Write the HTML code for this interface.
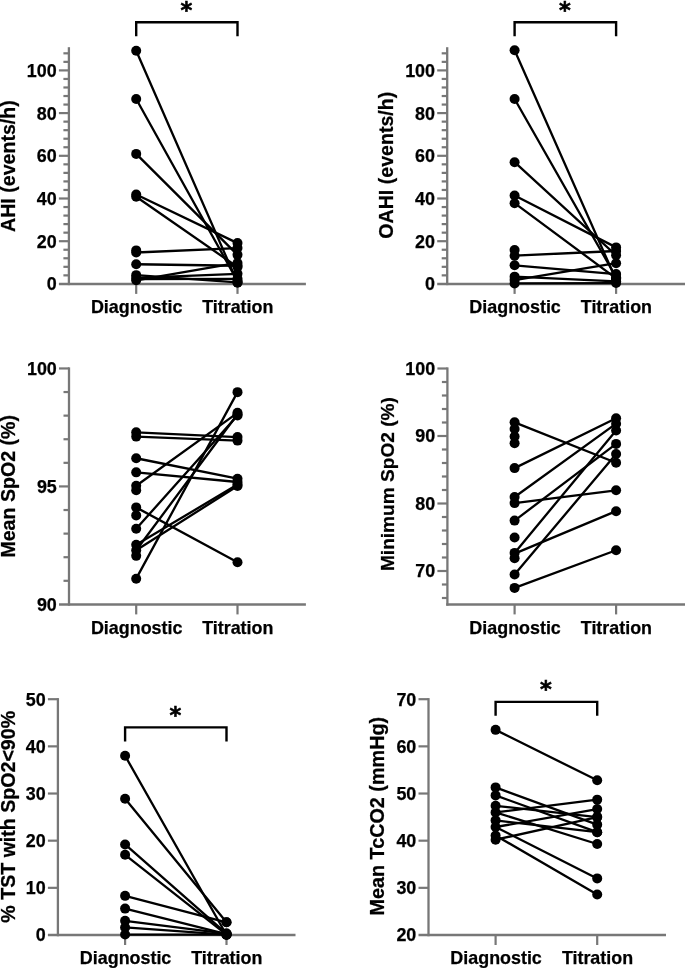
<!DOCTYPE html>
<html><head><meta charset="utf-8"><title>Figure</title>
<style>
html,body{margin:0;padding:0;background:#fff;}
svg{display:block}
.t{font-family:"Liberation Sans",sans-serif;font-weight:bold;font-size:17.9px;fill:#000;stroke:#000;stroke-width:0.25px}
.t.y{font-size:19.5px}
.a{font-family:"DejaVu Sans","Liberation Sans",sans-serif;font-weight:bold;font-size:22.5px;fill:#000;stroke:#000;stroke-width:0.6px}
</style></head><body>
<svg width="685" height="968" viewBox="0 0 685 968">
<rect width="685" height="968" fill="#fff"/>
<g stroke="#777777" stroke-width="2.2" fill="none">
<line x1="68.9" y1="47.2" x2="68.9" y2="285.15" stroke-width="2.3"/>
<line x1="58.900000000000006" y1="283.9" x2="305.9" y2="283.9" stroke-width="2.5"/>
<line x1="58.900000000000006" y1="241.20" x2="68.9" y2="241.20"/>
<line x1="58.900000000000006" y1="198.50" x2="68.9" y2="198.50"/>
<line x1="58.900000000000006" y1="155.80" x2="68.9" y2="155.80"/>
<line x1="58.900000000000006" y1="113.10" x2="68.9" y2="113.10"/>
<line x1="58.900000000000006" y1="70.40" x2="68.9" y2="70.40"/>
<line x1="63.400000000000006" y1="275.36" x2="68.9" y2="275.36"/>
<line x1="63.400000000000006" y1="266.82" x2="68.9" y2="266.82"/>
<line x1="63.400000000000006" y1="258.28" x2="68.9" y2="258.28"/>
<line x1="63.400000000000006" y1="249.74" x2="68.9" y2="249.74"/>
<line x1="63.400000000000006" y1="232.66" x2="68.9" y2="232.66"/>
<line x1="63.400000000000006" y1="224.12" x2="68.9" y2="224.12"/>
<line x1="63.400000000000006" y1="215.58" x2="68.9" y2="215.58"/>
<line x1="63.400000000000006" y1="207.04" x2="68.9" y2="207.04"/>
<line x1="63.400000000000006" y1="189.96" x2="68.9" y2="189.96"/>
<line x1="63.400000000000006" y1="181.42" x2="68.9" y2="181.42"/>
<line x1="63.400000000000006" y1="172.88" x2="68.9" y2="172.88"/>
<line x1="63.400000000000006" y1="164.34" x2="68.9" y2="164.34"/>
<line x1="63.400000000000006" y1="147.26" x2="68.9" y2="147.26"/>
<line x1="63.400000000000006" y1="138.72" x2="68.9" y2="138.72"/>
<line x1="63.400000000000006" y1="130.18" x2="68.9" y2="130.18"/>
<line x1="63.400000000000006" y1="121.64" x2="68.9" y2="121.64"/>
<line x1="63.400000000000006" y1="104.56" x2="68.9" y2="104.56"/>
<line x1="63.400000000000006" y1="96.02" x2="68.9" y2="96.02"/>
<line x1="63.400000000000006" y1="87.48" x2="68.9" y2="87.48"/>
<line x1="63.400000000000006" y1="78.94" x2="68.9" y2="78.94"/>
<line x1="63.400000000000006" y1="61.86" x2="68.9" y2="61.86"/>
<line x1="63.400000000000006" y1="53.32" x2="68.9" y2="53.32"/>
<line x1="136.2" y1="283.9" x2="136.2" y2="293.9"/>
<line x1="237.5" y1="283.9" x2="237.5" y2="293.9"/>
</g>
<g class="t" text-anchor="end">
<text x="56.7" y="290.30">0</text>
<text x="56.7" y="247.60">20</text>
<text x="56.7" y="204.90">40</text>
<text x="56.7" y="162.20">60</text>
<text x="56.7" y="119.50">80</text>
<text x="56.7" y="76.80">100</text>
</g>
<g class="t" text-anchor="middle">
<text x="136.7" y="312.8">Diagnostic</text>
<text x="237.8" y="312.8">Titration</text>
</g>
<text class="t y" text-anchor="middle" style="font-size:19.6px" transform="translate(15.0,166.1) rotate(-90)">AHI (events/h)</text>
<g stroke="#000" stroke-width="2.3" fill="none" stroke-linecap="round">
<line x1="136.2" y1="50.76" x2="237.5" y2="282.62"/>
<line x1="136.2" y1="99.01" x2="237.5" y2="281.12"/>
<line x1="136.2" y1="153.88" x2="237.5" y2="254.86"/>
<line x1="136.2" y1="194.44" x2="237.5" y2="243.12"/>
<line x1="136.2" y1="196.79" x2="237.5" y2="267.03"/>
<line x1="136.2" y1="252.52" x2="237.5" y2="248.03"/>
<line x1="136.2" y1="264.26" x2="237.5" y2="265.75"/>
<line x1="136.2" y1="275.15" x2="237.5" y2="282.41"/>
<line x1="136.2" y1="277.92" x2="237.5" y2="273.87"/>
<line x1="136.2" y1="279.20" x2="237.5" y2="278.78"/>
<line x1="136.2" y1="280.27" x2="237.5" y2="262.98"/>
</g>
<g fill="#000">
<circle cx="136.2" cy="50.76" r="5"/>
<circle cx="136.2" cy="99.01" r="5"/>
<circle cx="136.2" cy="153.88" r="5"/>
<circle cx="136.2" cy="194.44" r="5"/>
<circle cx="136.2" cy="196.79" r="5"/>
<circle cx="136.2" cy="250.38" r="5"/>
<circle cx="136.2" cy="252.52" r="5"/>
<circle cx="136.2" cy="264.26" r="5"/>
<circle cx="136.2" cy="275.15" r="5"/>
<circle cx="136.2" cy="277.92" r="5"/>
<circle cx="136.2" cy="280.27" r="5"/>
<circle cx="237.5" cy="282.62" r="5"/>
<circle cx="237.5" cy="281.12" r="5"/>
<circle cx="237.5" cy="254.86" r="5"/>
<circle cx="237.5" cy="243.12" r="5"/>
<circle cx="237.5" cy="267.03" r="5"/>
<circle cx="237.5" cy="248.03" r="5"/>
<circle cx="237.5" cy="265.75" r="5"/>
<circle cx="237.5" cy="282.41" r="5"/>
<circle cx="237.5" cy="273.87" r="5"/>
<circle cx="237.5" cy="278.78" r="5"/>
<circle cx="237.5" cy="262.98" r="5"/>
</g>
<path d="M136.2 36.2V22.3H237.5V36.2" stroke="#000" stroke-width="2.4" fill="none"/>
<text class="a" text-anchor="middle" x="186.45" y="17.6">*</text>
<g stroke="#777777" stroke-width="2.2" fill="none">
<line x1="447.2" y1="47.2" x2="447.2" y2="285.15" stroke-width="2.3"/>
<line x1="437.2" y1="283.9" x2="685.5" y2="283.9" stroke-width="2.5"/>
<line x1="437.2" y1="241.20" x2="447.2" y2="241.20"/>
<line x1="437.2" y1="198.50" x2="447.2" y2="198.50"/>
<line x1="437.2" y1="155.80" x2="447.2" y2="155.80"/>
<line x1="437.2" y1="113.10" x2="447.2" y2="113.10"/>
<line x1="437.2" y1="70.40" x2="447.2" y2="70.40"/>
<line x1="441.7" y1="275.36" x2="447.2" y2="275.36"/>
<line x1="441.7" y1="266.82" x2="447.2" y2="266.82"/>
<line x1="441.7" y1="258.28" x2="447.2" y2="258.28"/>
<line x1="441.7" y1="249.74" x2="447.2" y2="249.74"/>
<line x1="441.7" y1="232.66" x2="447.2" y2="232.66"/>
<line x1="441.7" y1="224.12" x2="447.2" y2="224.12"/>
<line x1="441.7" y1="215.58" x2="447.2" y2="215.58"/>
<line x1="441.7" y1="207.04" x2="447.2" y2="207.04"/>
<line x1="441.7" y1="189.96" x2="447.2" y2="189.96"/>
<line x1="441.7" y1="181.42" x2="447.2" y2="181.42"/>
<line x1="441.7" y1="172.88" x2="447.2" y2="172.88"/>
<line x1="441.7" y1="164.34" x2="447.2" y2="164.34"/>
<line x1="441.7" y1="147.26" x2="447.2" y2="147.26"/>
<line x1="441.7" y1="138.72" x2="447.2" y2="138.72"/>
<line x1="441.7" y1="130.18" x2="447.2" y2="130.18"/>
<line x1="441.7" y1="121.64" x2="447.2" y2="121.64"/>
<line x1="441.7" y1="104.56" x2="447.2" y2="104.56"/>
<line x1="441.7" y1="96.02" x2="447.2" y2="96.02"/>
<line x1="441.7" y1="87.48" x2="447.2" y2="87.48"/>
<line x1="441.7" y1="78.94" x2="447.2" y2="78.94"/>
<line x1="441.7" y1="61.86" x2="447.2" y2="61.86"/>
<line x1="441.7" y1="53.32" x2="447.2" y2="53.32"/>
<line x1="514.6" y1="283.9" x2="514.6" y2="293.9"/>
<line x1="616.1" y1="283.9" x2="616.1" y2="293.9"/>
</g>
<g class="t" text-anchor="end">
<text x="435.0" y="290.30">0</text>
<text x="435.0" y="247.60">20</text>
<text x="435.0" y="204.90">40</text>
<text x="435.0" y="162.20">60</text>
<text x="435.0" y="119.50">80</text>
<text x="435.0" y="76.80">100</text>
</g>
<g class="t" text-anchor="middle">
<text x="515.1" y="312.8">Diagnostic</text>
<text x="616.4" y="312.8">Titration</text>
</g>
<text class="t y" text-anchor="middle" style="font-size:19.6px" transform="translate(393.1,165.2) rotate(-90)">OAHI (events/h)</text>
<g stroke="#000" stroke-width="2.3" fill="none" stroke-linecap="round">
<line x1="514.6" y1="50.33" x2="616.1" y2="279.84"/>
<line x1="514.6" y1="99.01" x2="616.1" y2="277.28"/>
<line x1="514.6" y1="162.20" x2="616.1" y2="255.29"/>
<line x1="514.6" y1="195.51" x2="616.1" y2="247.39"/>
<line x1="514.6" y1="203.20" x2="616.1" y2="278.35"/>
<line x1="514.6" y1="255.72" x2="616.1" y2="251.02"/>
<line x1="514.6" y1="265.33" x2="616.1" y2="274.08"/>
<line x1="514.6" y1="276.64" x2="616.1" y2="281.34"/>
<line x1="514.6" y1="280.06" x2="616.1" y2="263.19"/>
<line x1="514.6" y1="283.47" x2="616.1" y2="283.05"/>
</g>
<g fill="#000">
<circle cx="514.6" cy="50.33" r="5"/>
<circle cx="514.6" cy="99.01" r="5"/>
<circle cx="514.6" cy="162.20" r="5"/>
<circle cx="514.6" cy="195.51" r="5"/>
<circle cx="514.6" cy="203.20" r="5"/>
<circle cx="514.6" cy="249.95" r="5"/>
<circle cx="514.6" cy="255.72" r="5"/>
<circle cx="514.6" cy="265.33" r="5"/>
<circle cx="514.6" cy="276.64" r="5"/>
<circle cx="514.6" cy="280.06" r="5"/>
<circle cx="514.6" cy="283.47" r="5"/>
<circle cx="616.1" cy="279.84" r="5"/>
<circle cx="616.1" cy="277.28" r="5"/>
<circle cx="616.1" cy="255.29" r="5"/>
<circle cx="616.1" cy="247.39" r="5"/>
<circle cx="616.1" cy="278.35" r="5"/>
<circle cx="616.1" cy="251.02" r="5"/>
<circle cx="616.1" cy="274.08" r="5"/>
<circle cx="616.1" cy="281.34" r="5"/>
<circle cx="616.1" cy="263.19" r="5"/>
<circle cx="616.1" cy="283.05" r="5"/>
</g>
<path d="M514.6 36.2V22.3H616.1V36.2" stroke="#000" stroke-width="2.4" fill="none"/>
<text class="a" text-anchor="middle" x="564.95" y="17.6">*</text>
<g stroke="#777777" stroke-width="2.2" fill="none">
<line x1="69.0" y1="367.35" x2="69.0" y2="605.65" stroke-width="2.3"/>
<line x1="59.0" y1="604.4" x2="305.9" y2="604.4" stroke-width="2.5"/>
<line x1="59.0" y1="486.42" x2="69.0" y2="486.42"/>
<line x1="59.0" y1="368.45" x2="69.0" y2="368.45"/>
<line x1="63.5" y1="580.80" x2="69.0" y2="580.80"/>
<line x1="63.5" y1="557.21" x2="69.0" y2="557.21"/>
<line x1="63.5" y1="533.62" x2="69.0" y2="533.62"/>
<line x1="63.5" y1="510.02" x2="69.0" y2="510.02"/>
<line x1="63.5" y1="462.83" x2="69.0" y2="462.83"/>
<line x1="63.5" y1="439.24" x2="69.0" y2="439.24"/>
<line x1="63.5" y1="415.64" x2="69.0" y2="415.64"/>
<line x1="63.5" y1="392.04" x2="69.0" y2="392.04"/>
<line x1="136.2" y1="604.4" x2="136.2" y2="614.4"/>
<line x1="237.5" y1="604.4" x2="237.5" y2="614.4"/>
</g>
<g class="t" text-anchor="end">
<text x="56.8" y="610.80">90</text>
<text x="56.8" y="492.82">95</text>
<text x="56.8" y="374.85">100</text>
</g>
<g class="t" text-anchor="middle">
<text x="136.7" y="634.1">Diagnostic</text>
<text x="237.8" y="634.1">Titration</text>
</g>
<text class="t y" text-anchor="middle" style="font-size:19.6px" transform="translate(15.4,486.3) rotate(-90)">Mean SpO2 (%)</text>
<g stroke="#000" stroke-width="2.3" fill="none" stroke-linecap="round">
<line x1="136.2" y1="432.37" x2="237.5" y2="437.08"/>
<line x1="136.2" y1="436.61" x2="237.5" y2="440.61"/>
<line x1="136.2" y1="458.25" x2="237.5" y2="478.71"/>
<line x1="136.2" y1="472.36" x2="237.5" y2="482.00"/>
<line x1="136.2" y1="485.76" x2="237.5" y2="412.85"/>
<line x1="136.2" y1="507.40" x2="237.5" y2="562.20"/>
<line x1="136.2" y1="528.81" x2="237.5" y2="415.44"/>
<line x1="136.2" y1="544.80" x2="237.5" y2="484.59"/>
<line x1="136.2" y1="550.21" x2="237.5" y2="486.00"/>
<line x1="136.2" y1="550.21" x2="237.5" y2="414.26"/>
<line x1="136.2" y1="578.67" x2="237.5" y2="392.16"/>
</g>
<g fill="#000">
<circle cx="136.2" cy="432.37" r="5"/>
<circle cx="136.2" cy="436.61" r="5"/>
<circle cx="136.2" cy="458.25" r="5"/>
<circle cx="136.2" cy="472.36" r="5"/>
<circle cx="136.2" cy="485.76" r="5"/>
<circle cx="136.2" cy="490.23" r="5"/>
<circle cx="136.2" cy="507.40" r="5"/>
<circle cx="136.2" cy="515.40" r="5"/>
<circle cx="136.2" cy="528.81" r="5"/>
<circle cx="136.2" cy="544.80" r="5"/>
<circle cx="136.2" cy="550.21" r="5"/>
<circle cx="136.2" cy="555.85" r="5"/>
<circle cx="136.2" cy="578.67" r="5"/>
<circle cx="237.5" cy="437.08" r="5"/>
<circle cx="237.5" cy="440.61" r="5"/>
<circle cx="237.5" cy="478.71" r="5"/>
<circle cx="237.5" cy="482.00" r="5"/>
<circle cx="237.5" cy="412.85" r="5"/>
<circle cx="237.5" cy="562.20" r="5"/>
<circle cx="237.5" cy="415.44" r="5"/>
<circle cx="237.5" cy="484.59" r="5"/>
<circle cx="237.5" cy="486.00" r="5"/>
<circle cx="237.5" cy="414.26" r="5"/>
<circle cx="237.5" cy="392.16" r="5"/>
</g>
<g stroke="#777777" stroke-width="2.2" fill="none">
<line x1="447.4" y1="367.4" x2="447.4" y2="605.65" stroke-width="2.3"/>
<line x1="446.25" y1="604.4" x2="685.5" y2="604.4" stroke-width="2.5"/>
<line x1="437.4" y1="571.00" x2="447.4" y2="571.00"/>
<line x1="437.4" y1="503.50" x2="447.4" y2="503.50"/>
<line x1="437.4" y1="436.00" x2="447.4" y2="436.00"/>
<line x1="437.4" y1="368.50" x2="447.4" y2="368.50"/>
<line x1="441.9" y1="598.00" x2="447.4" y2="598.00"/>
<line x1="441.9" y1="584.50" x2="447.4" y2="584.50"/>
<line x1="441.9" y1="557.50" x2="447.4" y2="557.50"/>
<line x1="441.9" y1="544.00" x2="447.4" y2="544.00"/>
<line x1="441.9" y1="530.50" x2="447.4" y2="530.50"/>
<line x1="441.9" y1="517.00" x2="447.4" y2="517.00"/>
<line x1="441.9" y1="490.00" x2="447.4" y2="490.00"/>
<line x1="441.9" y1="476.50" x2="447.4" y2="476.50"/>
<line x1="441.9" y1="463.00" x2="447.4" y2="463.00"/>
<line x1="441.9" y1="449.50" x2="447.4" y2="449.50"/>
<line x1="441.9" y1="422.50" x2="447.4" y2="422.50"/>
<line x1="441.9" y1="409.00" x2="447.4" y2="409.00"/>
<line x1="441.9" y1="395.50" x2="447.4" y2="395.50"/>
<line x1="441.9" y1="382.00" x2="447.4" y2="382.00"/>
<line x1="514.6" y1="604.4" x2="514.6" y2="614.4"/>
<line x1="616.1" y1="604.4" x2="616.1" y2="614.4"/>
</g>
<g class="t" text-anchor="end">
<text x="435.2" y="577.40">70</text>
<text x="435.2" y="509.90">80</text>
<text x="435.2" y="442.40">90</text>
<text x="435.2" y="374.90">100</text>
</g>
<g class="t" text-anchor="middle">
<text x="515.1" y="634.1">Diagnostic</text>
<text x="616.4" y="634.1">Titration</text>
</g>
<text class="t y" text-anchor="middle" style="font-size:19.1px" transform="translate(394.2,484.1) rotate(-90)">Minimum SpO2 (%)</text>
<g stroke="#000" stroke-width="2.3" fill="none" stroke-linecap="round">
<line x1="514.6" y1="422.34" x2="616.1" y2="462.72"/>
<line x1="514.6" y1="468.10" x2="616.1" y2="418.30"/>
<line x1="514.6" y1="497.04" x2="616.1" y2="423.69"/>
<line x1="514.6" y1="503.10" x2="616.1" y2="490.31"/>
<line x1="514.6" y1="520.60" x2="616.1" y2="443.88"/>
<line x1="514.6" y1="552.90" x2="616.1" y2="430.42"/>
<line x1="514.6" y1="553.58" x2="616.1" y2="511.18"/>
<line x1="514.6" y1="574.44" x2="616.1" y2="453.97"/>
<line x1="514.6" y1="587.90" x2="616.1" y2="550.21"/>
</g>
<g fill="#000">
<circle cx="514.6" cy="422.34" r="5"/>
<circle cx="514.6" cy="429.07" r="5"/>
<circle cx="514.6" cy="436.47" r="5"/>
<circle cx="514.6" cy="443.20" r="5"/>
<circle cx="514.6" cy="468.10" r="5"/>
<circle cx="514.6" cy="497.04" r="5"/>
<circle cx="514.6" cy="503.10" r="5"/>
<circle cx="514.6" cy="520.60" r="5"/>
<circle cx="514.6" cy="537.42" r="5"/>
<circle cx="514.6" cy="552.90" r="5"/>
<circle cx="514.6" cy="558.29" r="5"/>
<circle cx="514.6" cy="574.44" r="5"/>
<circle cx="514.6" cy="587.90" r="5"/>
<circle cx="616.1" cy="462.72" r="5"/>
<circle cx="616.1" cy="418.30" r="5"/>
<circle cx="616.1" cy="423.69" r="5"/>
<circle cx="616.1" cy="490.31" r="5"/>
<circle cx="616.1" cy="443.88" r="5"/>
<circle cx="616.1" cy="430.42" r="5"/>
<circle cx="616.1" cy="511.18" r="5"/>
<circle cx="616.1" cy="453.97" r="5"/>
<circle cx="616.1" cy="550.21" r="5"/>
</g>
<g stroke="#777777" stroke-width="2.2" fill="none">
<line x1="57.9" y1="698.1" x2="57.9" y2="936.25" stroke-width="2.3"/>
<line x1="47.9" y1="935.0" x2="295.5" y2="935.0" stroke-width="2.5"/>
<line x1="47.9" y1="887.84" x2="57.9" y2="887.84"/>
<line x1="47.9" y1="840.68" x2="57.9" y2="840.68"/>
<line x1="47.9" y1="793.52" x2="57.9" y2="793.52"/>
<line x1="47.9" y1="746.36" x2="57.9" y2="746.36"/>
<line x1="47.9" y1="699.20" x2="57.9" y2="699.20"/>
<line x1="125.1" y1="935.0" x2="125.1" y2="945.0"/>
<line x1="226.5" y1="935.0" x2="226.5" y2="945.0"/>
</g>
<g class="t" text-anchor="end">
<text x="45.7" y="941.40">0</text>
<text x="45.7" y="894.24">10</text>
<text x="45.7" y="847.08">20</text>
<text x="45.7" y="799.92">30</text>
<text x="45.7" y="752.76">40</text>
<text x="45.7" y="705.60">50</text>
</g>
<g class="t" text-anchor="middle">
<text x="125.6" y="964.1">Diagnostic</text>
<text x="226.8" y="964.1">Titration</text>
</g>
<text class="t y" text-anchor="middle" style="font-size:19.6px" transform="translate(15.2,816.8) rotate(-90)">% TST with SpO2&lt;90%</text>
<g stroke="#000" stroke-width="2.3" fill="none" stroke-linecap="round">
<line x1="125.1" y1="755.79" x2="226.5" y2="935.00"/>
<line x1="125.1" y1="798.71" x2="226.5" y2="922.27"/>
<line x1="125.1" y1="844.45" x2="226.5" y2="933.59"/>
<line x1="125.1" y1="854.83" x2="226.5" y2="934.53"/>
<line x1="125.1" y1="895.86" x2="226.5" y2="922.27"/>
<line x1="125.1" y1="908.59" x2="226.5" y2="934.06"/>
<line x1="125.1" y1="920.85" x2="226.5" y2="933.59"/>
<line x1="125.1" y1="927.45" x2="226.5" y2="934.53"/>
<line x1="125.1" y1="934.53" x2="226.5" y2="934.53"/>
</g>
<g fill="#000">
<circle cx="125.1" cy="755.79" r="5"/>
<circle cx="125.1" cy="798.71" r="5"/>
<circle cx="125.1" cy="844.45" r="5"/>
<circle cx="125.1" cy="854.83" r="5"/>
<circle cx="125.1" cy="895.86" r="5"/>
<circle cx="125.1" cy="908.59" r="5"/>
<circle cx="125.1" cy="920.85" r="5"/>
<circle cx="125.1" cy="927.45" r="5"/>
<circle cx="125.1" cy="934.53" r="5"/>
<circle cx="226.5" cy="935.00" r="5"/>
<circle cx="226.5" cy="922.27" r="5"/>
<circle cx="226.5" cy="933.59" r="5"/>
<circle cx="226.5" cy="934.53" r="5"/>
<circle cx="226.5" cy="922.27" r="5"/>
<circle cx="226.5" cy="934.06" r="5"/>
<circle cx="226.5" cy="933.59" r="5"/>
<circle cx="226.5" cy="934.53" r="5"/>
<circle cx="226.5" cy="934.53" r="5"/>
</g>
<path d="M125.1 741.4V727.4H226.5V741.4" stroke="#000" stroke-width="2.4" fill="none"/>
<text class="a" text-anchor="middle" x="175.40" y="722.7">*</text>
<g stroke="#777777" stroke-width="2.2" fill="none">
<line x1="428.5" y1="698.1" x2="428.5" y2="936.25" stroke-width="2.3"/>
<line x1="418.5" y1="935.0" x2="666" y2="935.0" stroke-width="2.5"/>
<line x1="418.5" y1="887.84" x2="428.5" y2="887.84"/>
<line x1="418.5" y1="840.68" x2="428.5" y2="840.68"/>
<line x1="418.5" y1="793.52" x2="428.5" y2="793.52"/>
<line x1="418.5" y1="746.36" x2="428.5" y2="746.36"/>
<line x1="418.5" y1="699.20" x2="428.5" y2="699.20"/>
<line x1="495.6" y1="935.0" x2="495.6" y2="945.0"/>
<line x1="597.2" y1="935.0" x2="597.2" y2="945.0"/>
</g>
<g class="t" text-anchor="end">
<text x="416.3" y="941.40">20</text>
<text x="416.3" y="894.24">30</text>
<text x="416.3" y="847.08">40</text>
<text x="416.3" y="799.92">50</text>
<text x="416.3" y="752.76">60</text>
<text x="416.3" y="705.60">70</text>
</g>
<g class="t" text-anchor="middle">
<text x="496.1" y="964.1">Diagnostic</text>
<text x="597.5" y="964.1">Titration</text>
</g>
<text class="t y" text-anchor="middle" style="font-size:19.8px" transform="translate(383.7,816.2) rotate(-90)">Mean TcCO2 (mmHg)</text>
<g stroke="#000" stroke-width="2.3" fill="none" stroke-linecap="round">
<line x1="495.6" y1="729.85" x2="597.2" y2="780.32"/>
<line x1="495.6" y1="787.39" x2="597.2" y2="824.65"/>
<line x1="495.6" y1="795.41" x2="597.2" y2="832.19"/>
<line x1="495.6" y1="805.78" x2="597.2" y2="817.10"/>
<line x1="495.6" y1="812.38" x2="597.2" y2="799.65"/>
<line x1="495.6" y1="812.38" x2="597.2" y2="843.98"/>
<line x1="495.6" y1="820.40" x2="597.2" y2="832.19"/>
<line x1="495.6" y1="827.00" x2="597.2" y2="809.08"/>
<line x1="495.6" y1="827.00" x2="597.2" y2="878.41"/>
<line x1="495.6" y1="835.49" x2="597.2" y2="894.44"/>
<line x1="495.6" y1="839.74" x2="597.2" y2="817.10"/>
</g>
<g fill="#000">
<circle cx="495.6" cy="729.85" r="5"/>
<circle cx="495.6" cy="787.39" r="5"/>
<circle cx="495.6" cy="795.41" r="5"/>
<circle cx="495.6" cy="805.78" r="5"/>
<circle cx="495.6" cy="812.38" r="5"/>
<circle cx="495.6" cy="820.40" r="5"/>
<circle cx="495.6" cy="827.00" r="5"/>
<circle cx="495.6" cy="835.49" r="5"/>
<circle cx="495.6" cy="839.74" r="5"/>
<circle cx="597.2" cy="780.32" r="5"/>
<circle cx="597.2" cy="824.65" r="5"/>
<circle cx="597.2" cy="832.19" r="5"/>
<circle cx="597.2" cy="817.10" r="5"/>
<circle cx="597.2" cy="799.65" r="5"/>
<circle cx="597.2" cy="843.98" r="5"/>
<circle cx="597.2" cy="832.19" r="5"/>
<circle cx="597.2" cy="809.08" r="5"/>
<circle cx="597.2" cy="878.41" r="5"/>
<circle cx="597.2" cy="894.44" r="5"/>
<circle cx="597.2" cy="817.10" r="5"/>
</g>
<path d="M495.6 715.8V701.9H597.2V715.8" stroke="#000" stroke-width="2.4" fill="none"/>
<text class="a" text-anchor="middle" x="546.00" y="697.2">*</text>
</svg></body></html>
